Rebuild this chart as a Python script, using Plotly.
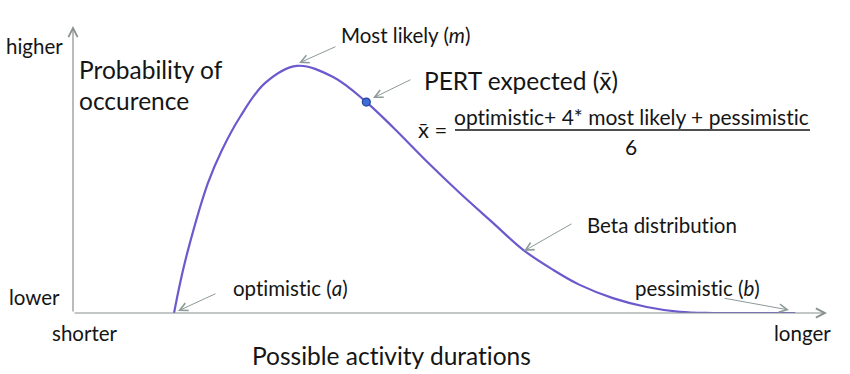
import plotly.graph_objects as go

# ---- data (x: duration 0-100, y: probability 0-100) ----
curve_x = [13.4, 14.2, 15.25, 17.9, 19.76, 22.15, 25.46, 29.7, 34.5, 38.9, 42.4,
           47.0, 51.3, 55.7, 59.7, 63.7, 67.2, 71.6, 76.1, 80.5, 84.9, 95.8]
curve_y = [0.0, 10.4, 21.9, 45.3, 56.8, 68.3, 80.1, 86.1, 82.2, 73.5, 64.8,
           52.6, 41.8, 31.4, 22.0, 15.0, 9.8, 5.2, 2.1, 0.4, 0.0, 0.0]
pert_x = [38.9]
pert_y = [73.5]

# ---- geometry helpers (pixel -> paper fraction) ----
L, R, T, B = 73, 23, 26, 61
W, H = 850, 374
PW, PH = W - L - R, H - T - B


def X(px):
    return (px - L) / PW


def Y(py):
    return (H - B - py) / PH


FONT = "Lato, Carlito, Calibri, sans-serif"
GREY = "#8d9a99"
AXIS = "#8a9090"

fig = go.Figure()
fig.add_trace(go.Scatter(x=curve_x, y=curve_y, mode="lines",
                         line=dict(color="#6a5acd", width=2.2, shape="spline", smoothing=1.0),
                         hoverinfo="skip", cliponaxis=False))
fig.add_trace(go.Scatter(x=pert_x, y=pert_y, mode="markers",
                         marker=dict(color="#3b6fd6", size=8, line=dict(color="#2a46a0", width=1.2)),
                         hoverinfo="skip", cliponaxis=False))

ann = []


def arrow(x0, y0, x1, y1, color=GREY, width=1, head=5, size=1.6):
    ann.append(dict(x=X(x1), y=Y(y1), xref="paper", yref="paper",
                    ax=x0 - x1, ay=y0 - y1, axref="pixel", ayref="pixel",
                    showarrow=True, arrowhead=head, standoff=0, startstandoff=0,
                    arrowsize=size, arrowwidth=width, arrowcolor=color, text=""))


def text(t, px, py, size, xanchor="center", color="#151515"):
    ann.append(dict(x=X(px), y=Y(py), xref="paper", yref="paper", text=t, showarrow=False,
                    xanchor=xanchor, yanchor="middle",
                    font=dict(family=FONT, size=size, color=color)))


# axes with open arrowheads
arrow(73, 313, 73, 26, color=AXIS, width=1.2, size=1.5)
arrow(73, 313, 827, 313, color=AXIS, width=1.2, size=1.5)

# annotation arrows
arrow(337, 46, 299, 63)
arrow(412, 79, 373, 98)
arrow(573, 223, 524, 251)
arrow(217, 293, 178, 311)
arrow(723, 298, 789, 310)

# texts
text("higher", 34, 46, 20.5)
text("lower", 34, 297, 20.5)
text("shorter", 85, 333, 20.5)
text("longer", 802, 333, 20.5)
text("Probability of", 77, 70, 24.5, xanchor="left")
text("occurence", 77, 101, 24.5, xanchor="left")
text("Most likely (<i>m</i>)", 405, 35, 20.5)
text("PERT expected (x\u0304)", 521, 80, 24.5)
text("x\u0304 =", 432, 129, 22)
text("optimistic+ 4* most likely + pessimistic", 631, 117, 21)
text("6", 631, 146, 21)
text("Beta distribution", 662, 225, 20.5)
text("optimistic (<i>a</i>)", 290, 288, 20.5)
text("pessimistic (<i>b</i>)", 697, 288, 20.5)
text("Possible activity durations", 391, 356, 24.5)

fig.update_layout(
    width=W, height=H,
    margin=dict(l=L, r=R, t=T, b=B),
    paper_bgcolor="white", plot_bgcolor="white",
    showlegend=False,
    xaxis=dict(range=[0, 100], visible=False, fixedrange=True),
    yaxis=dict(range=[0, 100], visible=False, fixedrange=True),
    annotations=ann,
    shapes=[dict(type="line", xref="paper", yref="paper", x0=X(455), x1=X(810),
                 y0=Y(130), y1=Y(130), line=dict(color="#151515", width=1.3))],
)

fig.write_html("out.html", config={"displayModeBar": False, "staticPlot": True})

# remove the default page margin and font ligatures
with open("out.html", encoding="utf-8") as f:
    html = f.read()
css = ("<style>html,body{margin:0;padding:0;}"
       "svg text{font-variant-ligatures:none;font-feature-settings:'liga' 0;}</style>")
html = html.replace("<head>", "<head>" + css, 1)
with open("out.html", "w", encoding="utf-8") as f:
    f.write(html)
